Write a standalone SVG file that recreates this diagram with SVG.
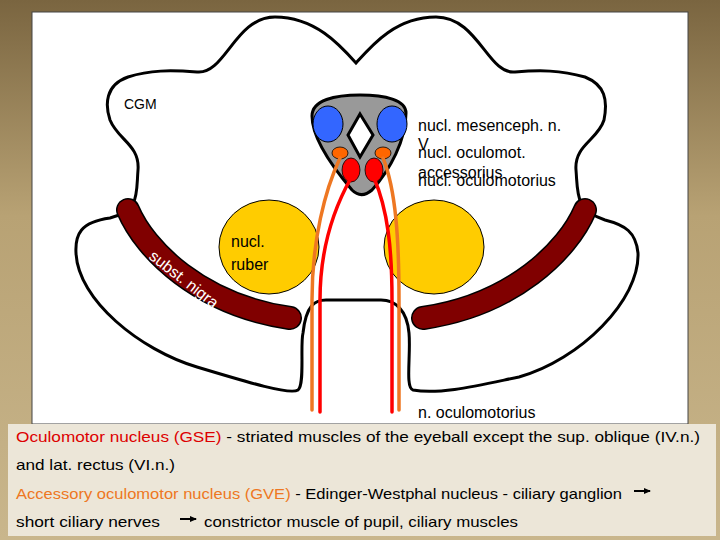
<svg xmlns="http://www.w3.org/2000/svg" width="720" height="540" viewBox="0 0 720 540">
<defs>
<linearGradient id="bg" x1="0" y1="0" x2="0" y2="1"><stop offset="0" stop-color="#7a6540"/><stop offset="0.4" stop-color="#b8a274"/><stop offset="1" stop-color="#c9b68c"/></linearGradient>
<marker id="ar" markerWidth="8" markerHeight="8" refX="6" refY="4" orient="auto" markerUnits="userSpaceOnUse"><path d="M0,1 L7,4 L0,7 Z" fill="#000"/></marker>
<style>
.o{fill:#fff;stroke:#000;stroke-width:3}
.l{font-family:"Liberation Sans",Arial,sans-serif;font-size:16px;fill:#000}
.t{font-family:"Liberation Sans Narrow","Liberation Sans",sans-serif;font-size:15px;fill:#000}
.n{fill:none;stroke-width:3.5;stroke-linecap:round}
</style>
</defs>
<rect width="720" height="540" fill="url(#bg)"/>
<rect x="32" y="12" width="656" height="412" fill="#fff" stroke="#444" stroke-width="1"/>
<g id="brainstem">
<path class="o" d="M356,63 C340,45 315,17 275,17 C235,17 225,75 197,72 C170,70 150,70 128,77 C105,85 105,105 110,120 C118,140 140,145 138,170 C136,195 140,210 110,218 C80,222 75,235 76,253 C78,300 140,350 197,367 C250,383 290,395 298,390 C305,385 300,345 303,333 C306,305 315,300 326,300 L381,300 C395,300 407,310 409,333 C411,355 405,388 413,390 C440,395 480,385 519,377 C580,360 640,300 638,253 C636,232 625,225 605,220 C575,210 578,195 576,170 C574,145 598,140 604,120 C608,100 605,85 585,77 C560,70 540,70 515,72 C488,75 478,17 436,17 C396,17 372,45 356,63 Z"/>
</g>
<g id="substantia-nigra">
<path d="M128,210 C145,250 200,305 290,318" fill="none" stroke="#000" stroke-width="24" stroke-linecap="round"/>
<path d="M128,210 C145,250 200,305 290,318" fill="none" stroke="#800000" stroke-width="21" stroke-linecap="round"/>
<path d="M585,210 C568,250 513,305 423,318" fill="none" stroke="#000" stroke-width="24" stroke-linecap="round"/>
<path d="M585,210 C568,250 513,305 423,318" fill="none" stroke="#800000" stroke-width="21" stroke-linecap="round"/>
<text x="148" y="258" transform="rotate(38 148 258)" font-family="Liberation Sans,Arial,sans-serif" font-size="16" fill="#fff">subst. nigra</text>
</g>
<g id="nucl-ruber">
<ellipse cx="269" cy="247" rx="50" ry="47" fill="#ffcc00" stroke="#000" stroke-width="1"/>
<ellipse cx="434" cy="247" rx="50" ry="47" fill="#ffcc00" stroke="#000" stroke-width="1"/>
<text class="l" x="231" y="247">nucl.</text>
<text class="l" x="231" y="270">ruber</text>
</g>
<g id="tegmentum">
<path d="M360,95 C385,95 406,100 406,113 C406,140 390,170 372,190 C365,196 358,196 352,190 C335,170 312,140 312,116 C312,100 335,95 360,95 Z" fill="#999" stroke="#000" stroke-width="3"/>
<path d="M360,114 L373,135 L360,157 L348,135 Z" fill="#fff" stroke="#000" stroke-width="3"/>
<ellipse cx="328" cy="124" rx="15" ry="18" fill="#3366ff" stroke="#000" stroke-width="1"/>
<ellipse cx="392" cy="124" rx="15" ry="18" fill="#3366ff" stroke="#000" stroke-width="1"/>
<ellipse cx="340" cy="153" rx="8" ry="6" fill="#ff6600" stroke="#000" stroke-width="0.8"/>
<ellipse cx="383" cy="153" rx="8" ry="6" fill="#ff6600" stroke="#000" stroke-width="0.8"/>
<ellipse cx="351" cy="170" rx="9" ry="12" fill="#ff0000" stroke="#000" stroke-width="0.8"/>
<ellipse cx="374" cy="170" rx="9" ry="12" fill="#ff0000" stroke="#000" stroke-width="0.8"/>
</g>
<g id="connectors">
<path class="n" stroke="#ee7722" stroke-width="2.5" d="M340,158 C325,190 312,240 312,300 L312,410"/>
<path class="n" stroke="#ee7722" stroke-width="2.5" d="M383,158 C396,190 399,240 399,300 L399,410"/>
<path class="n" stroke="#ff0000" d="M351,178 C333,210 320,250 320,300 L320,412"/>
<path class="n" stroke="#ff0000" d="M374,178 C388,210 392,250 392,300 L392,412"/>
</g>
<g id="labels">
<text x="124" y="109" font-family="Liberation Sans,Arial,sans-serif" font-size="14">CGM</text>
<text class="l" x="418" y="131">nucl. mesenceph. n.</text>
<text class="l" x="418" y="150">V</text>
<text class="l" x="418" y="158">nucl. oculomot.</text>
<text class="l" x="418" y="178">accessorius</text>
<text class="l" x="418" y="186">nucl. oculomotorius</text>
<text class="l" x="418" y="418">n. oculomotorius</text>
</g>
<g id="legend">
<rect x="8" y="424" width="708" height="112" fill="#ece6d8"/>
<text class="t" x="16" y="442" textLength="684" lengthAdjust="spacingAndGlyphs"><tspan fill="#dd0000">Oculomotor nucleus (GSE)</tspan>  - striated muscles of the eyeball except the sup. oblique (IV.n.)</text>
<text class="t" x="16" y="470" textLength="159" lengthAdjust="spacingAndGlyphs">and lat. rectus (VI.n.)</text>
<text class="t" x="16" y="499" textLength="606" lengthAdjust="spacingAndGlyphs"><tspan fill="#ee7722">Accessory oculomotor nucleus (GVE)</tspan> - Edinger-Westphal nucleus - ciliary ganglion</text>
<line x1="634" y1="491" x2="650" y2="491" stroke="#000" stroke-width="2" marker-end="url(#ar)"/>
<text class="t" x="16" y="527" textLength="144" lengthAdjust="spacingAndGlyphs">short ciliary nerves</text>
<line x1="180" y1="519" x2="196" y2="519" stroke="#000" stroke-width="2" marker-end="url(#ar)"/>
<text class="t" x="204" y="527" textLength="314" lengthAdjust="spacingAndGlyphs">constrictor muscle of pupil, ciliary muscles</text>
</g>
</svg>
